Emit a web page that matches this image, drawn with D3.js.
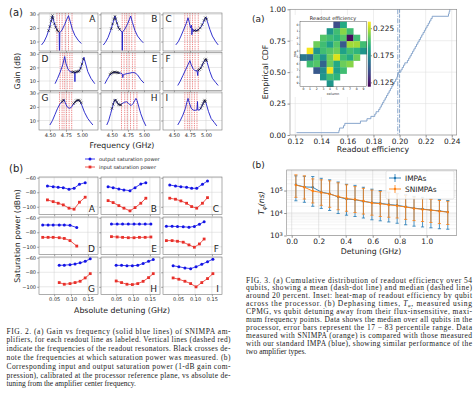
<!DOCTYPE html>
<html lang="en">
<head>
<meta charset="UTF-8">
<title>SNIMPA gain, saturation power, readout efficiency and dephasing</title>
<script src="https://d3js.org/d3.v7.min.js"></script>
<style>
    body { margin: 0; background: #fff; }
    svg { display: block; font-family: "DejaVu Sans", sans-serif; }
    .ax .domain { display: none; }
    .ax line { stroke: #444; stroke-width: 0.5; }
    .ax text { font-size: 5px; fill: #222; font-family: "DejaVu Sans", sans-serif; }
    .ax3 .domain { display: none; }
    .ax3 line { stroke: #444; stroke-width: 0.6; }
    .ax3 text { font-size: 7.4px; fill: #222; font-family: "DejaVu Sans", sans-serif; }
    .inax .domain { display: none; }
    .inax line { stroke: #444; stroke-width: 0.3; }
    .inax text { font-size: 3px; fill: #222; font-family: "DejaVu Sans", sans-serif; }
    .lbl { font-size: 7.8px; fill: #222; }
    .plbl { font-size: 9px; fill: #222; }
    .cap { font-family: "Liberation Serif", "Times New Roman", serif; font-size: 7.5px; fill: #1a1a1a; }
</style>
</head>
<body>
<svg id="page" width="474" height="397"></svg>
<script>
// ---------------- data ----------------
var panelNames = ['A', 'B', 'C', 'D', 'E', 'F', 'G', 'H', 'I'];

// FIG 2 (a): gain (dB) vs frequency (GHz), one curve per readout line
var gainCurves = [
    [[4.37,7.5],[4.41,10],[4.45,14],[4.49,19.5],[4.52,25],[4.54,29],[4.56,25],[4.59,20.5],[4.62,18],[4.645,16.5],[4.648,3.5],[4.652,3.5],[4.655,16.5],[4.69,18.5],[4.73,22.5],[4.765,26.5],[4.79,29],[4.815,25],[4.85,19],[4.89,14.5],[4.94,11],[4.99,8.5]],
    [[4.366,7.4],[4.40,9.5],[4.44,13],[4.48,18],[4.515,23.5],[4.548,28.8],[4.575,24],[4.605,20],[4.635,18],[4.658,17],[4.66,3.5],[4.663,3.5],[4.666,17],[4.70,19],[4.74,22.5],[4.77,26],[4.793,28.8],[4.82,24],[4.86,18],[4.90,14],[4.95,11],[4.99,9]],
    [[4.53,7.5],[4.57,10],[4.61,14],[4.65,18.5],[4.69,23],[4.72,27.5],[4.74,24],[4.76,20],[4.775,22],[4.78,15],[4.79,19.5],[4.81,17.5],[4.83,18.5],[4.86,18],[4.89,19],[4.92,20.5],[4.95,23],[4.98,26.5],[5.00,28],[5.02,25],[5.06,19],[5.10,14],[5.15,10],[5.19,7.5]],
    [[4.58,8],[4.62,12],[4.66,16.5],[4.70,22],[4.73,28],[4.75,23],[4.78,19],[4.81,17],[4.84,16.5],[4.87,16.5],[4.888,16.3],[4.89,9.5],[4.892,16.3],[4.92,16.5],[4.96,17.5],[4.99,21],[5.015,25],[5.03,27.5],[5.05,24],[5.09,17],[5.14,12],[5.2,8]],
    [[4.39,8],[4.43,11.5],[4.47,14.5],[4.52,16.3],[4.56,16.5],[4.60,16],[4.64,15.8],[4.665,15],[4.67,12.5],[4.675,14.5],[4.70,15],[4.74,15.5],[4.78,15.8],[4.82,16.3],[4.86,16],[4.90,14.5],[4.95,11],[5.0,8.5]],
    [[4.56,6.7],[4.60,10],[4.64,14],[4.68,18],[4.72,22],[4.75,25],[4.77,22],[4.80,19],[4.83,17.5],[4.86,17.7],[4.872,14],[4.878,17.7],[4.90,18.5],[4.93,20.5],[4.96,23.5],[4.985,25.5],[5.0,26.3],[5.02,23.5],[5.06,17],[5.10,12],[5.15,9],[5.19,6.7]],
    [[4.50,6.7],[4.54,10],[4.58,14.5],[4.62,19],[4.66,22.5],[4.70,24],[4.72,25.5],[4.74,23],[4.77,20],[4.80,19],[4.83,19.5],[4.86,21.5],[4.90,24],[4.94,25],[4.97,24],[5.0,21],[5.04,16],[5.09,11.5],[5.13,9],[5.17,6.7]],
    [[4.42,6.7],[4.45,10],[4.48,15],[4.51,20],[4.53,23.5],[4.55,25.6],[4.57,24],[4.60,22],[4.63,21.4],[4.66,22.5],[4.70,23.5],[4.73,23.8],[4.76,22.5],[4.80,21],[4.83,22.5],[4.86,25],[4.875,26.3],[4.89,25],[4.92,20],[4.95,15],[4.99,10],[5.03,6]],
    [[4.56,6.7],[4.60,10],[4.64,14],[4.68,19],[4.70,23],[4.72,26.3],[4.74,23],[4.77,19],[4.80,17.7],[4.83,17.5],[4.86,17.8],[4.868,24],[4.874,17.7],[4.90,17.7],[4.93,20],[4.96,23],[4.98,25],[5.0,23],[5.04,16.5],[5.08,11.5],[5.13,8.5],[5.17,6]]
];

// black crosses: frequencies where saturation power was measured [GHz, dB]
var gainCrosses = [
    [[4.48,18],[4.50,21],[4.52,25],[4.53,27.5],[4.54,29],[4.55,27],[4.57,23],[4.59,20.5],[4.61,18.5],[4.63,17.5]],
    [[4.49,19.5],[4.51,23],[4.53,26.5],[4.548,28.5],[4.56,26.5],[4.58,23.5],[4.60,20.5],[4.62,19]],
    [[4.82,18],[4.85,17.8],[4.88,18.5],[4.91,20],[4.94,22.5],[4.97,25.5],[4.99,27.5],[5.01,26.5]],
    [[4.85,16.5],[4.87,16.8],[4.90,16.5],[4.92,17],[4.94,17],[4.96,17.5],[4.98,19.5],[5.0,22.5],[5.02,26]],
    [[4.47,15],[4.49,15.8],[4.51,16.3],[4.53,16.5],[4.55,16.5],[4.57,16.3],[4.59,16.2],[4.61,16]],
    [[4.88,18],[4.90,18.5],[4.92,19.5],[4.94,21.5],[4.96,23.5],[4.98,25.5],[5.0,26],[5.01,25]],
    [[4.69,24],[4.71,25],[4.87,22.5],[4.89,23.5],[4.91,24.5],[4.93,25],[4.95,25],[4.97,24.5],[4.99,23]],
    [[4.50,19],[4.52,22],[4.54,24.5],[4.56,25],[4.58,23.5],[4.60,22],[4.62,21.5],[4.64,21.5]],
    [[4.92,19],[4.94,21],[4.955,22.5],[4.97,24],[4.98,25],[4.99,24]]
];

// readout resonator frequencies (GHz), six per line
var resonatorFreqs = [
    [4.61,4.65,4.69,4.74,4.79,4.845],
    [4.66,4.70,4.73,4.77,4.81,4.86],
    [4.67,4.71,4.75,4.79,4.83,4.88],
    [4.66,4.70,4.73,4.77,4.81,4.845],
    [4.65,4.69,4.73,4.77,4.82,4.86],
    [4.67,4.71,4.75,4.79,4.83,4.88],
    [4.65,4.69,4.72,4.76,4.80,4.84],
    [4.65,4.70,4.74,4.79,4.84,4.89],
    [4.67,4.71,4.74,4.78,4.82,4.86]
];
var gainTicks = [10, 20, 30];
var freqTicks = [4.50, 4.75, 5.00];

// FIG 2 (b): saturation power (dBm) vs absolute detuning (GHz)
var satDetuning = [
    [0.030,0.047,0.062,0.077,0.094,0.109,0.125,0.142],
    [0.026,0.041,0.058,0.073,0.091,0.106,0.123,0.138],
    [0.025,0.042,0.058,0.075,0.090,0.105,0.122,0.137],
    [0.016,0.032,0.047,0.065,0.080,0.097,0.117],
    [0.036,0.053,0.069,0.086,0.103,0.119,0.136,0.153],
    [0.015,0.032,0.048,0.065,0.082,0.098,0.113,0.127],
    [0.065,0.080,0.097,0.112,0.127,0.142,0.157],
    [0.050,0.066,0.082,0.098,0.114,0.130,0.146,0.160],
    [0.035,0.052,0.070,0.087,0.103,0.120,0.137,0.153]
];
var satOutput = [
    [-71.4,-72.3,-73.2,-73.7,-75.9,-74.5,-69,-66.8],
    [-72.3,-73.7,-75.5,-76.8,-77.8,-73.7,-68.6,-66.8],
    [-70,-71.4,-72.3,-73.2,-74.5,-74.5,-69,-64.5],
    [-70,-70,-70,-70,-70,-70.5,-73.5],
    [-68.8,-68.8,-68.8,-68.8,-68.8,-68.8,-68.8,-68.8],
    [-71.8,-71.8,-72.1,-72.5,-73,-72,-69,-65.5],
    [-70.5,-70.2,-69.6,-68.6,-67,-65,-61.5],
    [-70.5,-70.5,-71,-71,-70.5,-68,-65,-62.5],
    [-71,-72.5,-74,-75,-72.5,-69,-65.5,-62]
];
var satInput = [
    [-90.5,-92.9,-95.1,-97.4,-101.9,-103.3,-93.7,-86.8],
    [-91.5,-94.2,-98.4,-101.9,-105.6,-101.1,-95.1,-88.2],
    [-88.2,-89.6,-91.9,-95.1,-99.7,-101.9,-95.1,-87.4],
    [-87,-87,-87,-87.5,-88.5,-91.5,-99],
    [-86,-86.5,-87,-87.5,-87.5,-87,-87,-86.5],
    [-91.5,-91.5,-92.4,-93.7,-97.4,-100.6,-96.1,-89.3],
    [-94.2,-96.5,-95.6,-94.2,-92.4,-87.8,-81.9],
    [-92,-94.2,-96.5,-96.9,-95.6,-92.5,-87.4,-81.9],
    [-87.8,-89.6,-92.4,-95.6,-100.1,-94.2,-88.7,-81.9]
];
var satTicks = [-100, -80, -60];
var detTicks = [0.05, 0.10, 0.15];

// FIG 3 (a): readout efficiency of the 54 qubits (sorted)
var readoutEff = [
    0.121, 0.1535, 0.154, 0.157, 0.158, 0.170, 0.175, 0.178, 0.181, 0.182,
    0.184, 0.185, 0.186, 0.187, 0.188, 0.189, 0.190, 0.191, 0.192, 0.193,
    0.194, 0.195, 0.196, 0.197, 0.198, 0.1985, 0.199, 0.201, 0.202, 0.203,
    0.204, 0.206, 0.207, 0.208, 0.209, 0.210, 0.211, 0.212, 0.213, 0.214,
    0.215, 0.216, 0.217, 0.218, 0.219, 0.220, 0.221, 0.222, 0.223, 0.224,
    0.225, 0.2375, 0.238, 0.2385
];
var effTicks = [0.12, 0.14, 0.16, 0.18, 0.20, 0.22, 0.24];
var cdfTicks = [0, 0.25, 0.5, 0.75, 1];

// inset heat-map: readout efficiency by qubit (row, column)
var effGrid = [
    [null,null,null,null,null,0.145,0.19,null,null,null],
    [null,null,null,null,0.18,0.2,0.215,0.2,null,null],
    [null,null,null,0.205,0.2,0.195,0.205,0.12,0.2,null],
    [null,null,0.21,0.2,0.185,0.205,0.15,0.22,0.22,0.2],
    [null,0.235,0.18,0.2,0.205,0.21,0.185,0.2,0.195,0.18],
    [0.165,0.16,0.2,0.18,0.21,0.23,0.2,0.19,0.21,null],
    [null,0.2,0.205,0.155,0.21,0.19,0.21,0.215,null,null],
    [null,null,0.15,0.175,0.235,0.185,0.2,null,null,null],
    [null,null,null,0.18,0.2,0.195,null,null,null,null],
    [null,null,null,null,0.18,null,null,null,null,null]
];
var colorbarTicks = [0.125, 0.175, 0.225];

// FIG 3 (b): dephasing time T_phi (ns) vs detuning (GHz), median and 17-83 percentile
var detuning = [0.031,0.094,0.156,0.219,0.281,0.344,0.406,0.469,0.531,0.594,0.656,0.719,0.781,0.844,0.906,0.969,1.031,1.094,1.156];
var impaMed = [1.8e5,1.45e5,1.4e5,8.5e4,7.2e4,5.2e4,4.2e4,3.9e4,3.3e4,2.9e4,2.7e4,2.4e4,2.2e4,1.9e4,1.65e4,1.5e4,1.35e4,1.25e4,1.1e4];
var impaHi = [4.5e5,4.3e5,4.2e5,3.5e5,3.0e5,2.4e5,1.9e5,1.7e5,1.4e5,1.15e5,1.0e5,8.5e4,7.5e4,6.5e4,5.5e4,5.0e4,4.4e4,4.0e4,3.6e4];
var impaLo = [3.5e4,3.0e4,2.0e4,1.6e4,1.3e4,9.5e3,8e3,7e3,6e3,5e3,4.5e3,4e3,3.5e3,3e3,2.6e3,2.4e3,2.2e3,2.0e3,1.9e3];
var snimpaMed = [1.75e5,1.4e5,9.5e4,8.2e4,7.0e4,5.4e4,4.4e4,4.0e4,3.4e4,2.8e4,2.6e4,2.3e4,2.1e4,1.85e4,1.6e4,1.45e4,1.35e4,1.2e4,1.1e4];
var snimpaHi = [5.0e5,4.5e5,3.3e5,3.0e5,2.7e5,2.2e5,1.8e5,1.5e5,1.25e5,1.05e5,9e4,8e4,7e4,6e4,5e4,4.5e4,4.0e4,3.6e4,3.3e4];
var snimpaLo = [5e4,4.2e4,2.8e4,2.2e4,1.8e4,1.4e4,1.2e4,1.05e4,9e3,8e3,7e3,6.5e3,6e3,5.2e3,4.6e3,4.2e3,3.8e3,3.4e3,3.1e3];
var detTicks3 = [0, 0.2, 0.4, 0.6, 0.8, 1.0];
var tphiTicks = [1e3, 1e4, 1e5];

// captions
var fig2Caption = [
    'FIG. 2.    (a) Gain vs frequency (solid blue lines) of SNIMPA am-',
    'plifiers, for each readout line as labeled. Vertical lines (dashed red)',
    'indicate the frequencies of the readout resonators. Black crosses de-',
    'note the frequencies at which saturation power was measured.  (b)',
    'Corresponding input and output saturation power (1-dB gain com-',
    'pression), calibrated at the processor reference plane, vs absolute de-',
    'tuning from the amplifier center frequency.'
];
var fig3Caption = [
    'FIG. 3.    (a) Cumulative distribution of readout efficiency over 54',
    'qubits, showing a mean (dash-dot line) and median (dashed line)',
    'around 20 percent.  Inset: heat-map of readout efficiency by qubit',
    'across the processor.   (b) Dephasing times, |T|, measured using',
    'CPMG, vs qubit detuning away from their flux-insensitive, maxi-',
    'mum frequency points. Data shows the median over all qubits in the',
    'processor, error bars represent the 17 \u2212 83 percentile range.  Data',
    'measured with SNIMPA (orange) is compared with those measured',
    'with our standard IMPA (blue), showing similar performance of the',
    'two amplifier types.'
];

// ---------------- layout ----------------
var svg = d3.select('#page');
var defs = svg.append('defs');
var colX = [39, 101, 163], panelW = 59;

function grid(g, xs, ys, xt, yt, x0, x1, y0, y1, color) {
    g.selectAll('.gx').data(xt).enter().append('line')
        .attr('x1', d => xs(d)).attr('x2', d => xs(d)).attr('y1', y0).attr('y2', y1)
        .attr('stroke', color).attr('stroke-width', 0.5);
    g.selectAll('.gy').data(yt).enter().append('line')
        .attr('x1', x0).attr('x2', x1).attr('y1', d => ys(d)).attr('y2', d => ys(d))
        .attr('stroke', color).attr('stroke-width', 0.5);
}

function frame(g, x, y, w, h, color, sw) {
    g.append('rect').attr('x', x).attr('y', y).attr('width', w).attr('height', h)
        .attr('fill', 'none').attr('stroke', color).attr('stroke-width', sw);
}

// ---------- FIG 2 (a) ----------
var gainRowY = [13, 52.5, 92], gainH = 38;
var gainX = d3.scaleLinear().domain([4.33, 5.25]).range([0, panelW]);
var gainY = d3.scaleLinear().domain([3, 31]).range([gainH, 0]);
var gainLabelRight = [true, true, false, false, true, false, false, true, false];

panelNames.forEach(function (name, i) {
    var r = Math.floor(i / 3), c = i % 3;
    var g = svg.append('g').attr('transform', 'translate(' + colX[c] + ',' + gainRowY[r] + ')');
    defs.append('clipPath').attr('id', 'gclip' + i)
        .append('rect').attr('width', panelW).attr('height', gainH);
    grid(g, gainX, gainY, freqTicks, gainTicks, 0, panelW, 0, gainH, '#d0d0d0');

    var inner = g.append('g').attr('clip-path', 'url(#gclip' + i + ')');
    inner.selectAll('.res').data(resonatorFreqs[i]).enter().append('line')
        .attr('x1', d => gainX(d)).attr('x2', d => gainX(d))
        .attr('y1', 0).attr('y2', gainH)
        .attr('stroke', '#e03a3a').attr('stroke-width', 0.6)
        .attr('stroke-dasharray', '1.3,0.9');
    inner.append('path').datum(gainCurves[i])
        .attr('d', d3.line().x(d => gainX(d[0])).y(d => gainY(d[1])))
        .attr('fill', 'none').attr('stroke', '#1c1cc8').attr('stroke-width', 0.9);
    inner.selectAll('.cross').data(gainCrosses[i]).enter().append('path')
        .attr('transform', d => 'translate(' + gainX(d[0]) + ',' + gainY(d[1]) + ')')
        .attr('d', 'M-1.3,-1.3L1.3,1.3M-1.3,1.3L1.3,-1.3')
        .attr('stroke', '#000').attr('stroke-width', 0.5);

    var ya = d3.axisLeft(gainY).tickValues(gainTicks).tickSize(1.8).tickPadding(1.2);
    if (c > 0) ya.tickFormat('');
    g.append('g').attr('class', 'ax').call(ya);
    var xa = d3.axisBottom(gainX).tickValues(freqTicks).tickSize(1.8).tickPadding(1.2)
        .tickFormat(d3.format('.2f'));
    if (r < 2) xa.tickFormat('');
    g.append('g').attr('class', 'ax').attr('transform', 'translate(0,' + gainH + ')').call(xa);
    frame(g, 0, 0, panelW, gainH, '#777', 0.6);

    g.append('text').attr('class', 'plbl')
        .attr('x', gainLabelRight[i] ? panelW - 2.5 : 2.5).attr('y', 9)
        .attr('text-anchor', gainLabelRight[i] ? 'end' : 'start')
        .text(name);
});

svg.append('text').attr('class', 'plbl').attr('x', 9).attr('y', 16).style('font-size', '10px').text('(a)');
svg.append('text').attr('class', 'lbl').attr('text-anchor', 'middle')
    .attr('transform', 'translate(20,71) rotate(-90)').text('Gain (dB)');
svg.append('text').attr('class', 'lbl').attr('text-anchor', 'middle')
    .attr('x', 122).attr('y', 148).text('Frequency (GHz)');

// ---------- FIG 2 (b) ----------
var satRowY = [177, 217, 257], satH = 37.5;
var satX = d3.scaleLinear().domain([0.005, 0.18]).range([0, panelW]);
var satY = d3.scaleLinear().domain([-110.6, -59]).range([satH, 0]);
var blue = '#1414e6', red = '#e8302a';

panelNames.forEach(function (name, i) {
    var r = Math.floor(i / 3), c = i % 3;
    var g = svg.append('g').attr('transform', 'translate(' + colX[c] + ',' + satRowY[r] + ')');
    grid(g, satX, satY, detTicks, satTicks, 0, panelW, 0, satH, '#d0d0d0');

    var pts = satDetuning[i];
    var outPts = pts.map((d, k) => [d, satOutput[i][k]]);
    var inPts = pts.map((d, k) => [d, satInput[i][k]]);
    var line = d3.line().x(d => satX(d[0])).y(d => satY(d[1]));
    g.append('path').datum(outPts).attr('d', line)
        .attr('fill', 'none').attr('stroke', blue).attr('stroke-width', 0.8);
    g.selectAll('.o').data(outPts).enter().append('circle')
        .attr('cx', d => satX(d[0])).attr('cy', d => satY(d[1])).attr('r', 1.5).attr('fill', blue);
    g.append('path').datum(inPts).attr('d', line)
        .attr('fill', 'none').attr('stroke', red).attr('stroke-width', 0.8);
    g.selectAll('.s').data(inPts).enter().append('rect')
        .attr('x', d => satX(d[0]) - 1.4).attr('y', d => satY(d[1]) - 1.4)
        .attr('width', 2.8).attr('height', 2.8).attr('fill', red);

    var ya = d3.axisLeft(satY).tickValues(satTicks).tickSize(1.8).tickPadding(1.2);
    if (c > 0) ya.tickFormat('');
    g.append('g').attr('class', 'ax').call(ya);
    var xa = d3.axisBottom(satX).tickValues(detTicks).tickSize(1.8).tickPadding(1.2)
        .tickFormat(d3.format('.2f'));
    if (r < 2) xa.tickFormat('');
    g.append('g').attr('class', 'ax').attr('transform', 'translate(0,' + satH + ')').call(xa);
    frame(g, 0, 0, panelW, satH, '#777', 0.6);

    g.append('text').attr('class', 'plbl').attr('x', panelW - 3).attr('y', satH - 3)
        .attr('text-anchor', 'end').text(name);
});

// legend
var leg = svg.append('g').attr('transform', 'translate(85,159)');
leg.append('line').attr('x1', 0).attr('x2', 10).attr('stroke', blue).attr('stroke-width', 0.8);
leg.append('circle').attr('cx', 5).attr('r', 1.5).attr('fill', blue);
leg.append('text').attr('x', 14).attr('y', 1.8).style('font-size', '5px').attr('fill', '#222').text('output saturation power');
leg.append('line').attr('x1', 0).attr('x2', 10).attr('y1', 8).attr('y2', 8).attr('stroke', red).attr('stroke-width', 0.8);
leg.append('rect').attr('x', 3.6).attr('y', 6.6).attr('width', 2.8).attr('height', 2.8).attr('fill', red);
leg.append('text').attr('x', 14).attr('y', 9.8).style('font-size', '5px').attr('fill', '#222').text('input saturation power');

svg.append('text').attr('class', 'plbl').attr('x', 9).attr('y', 172).style('font-size', '10px').text('(b)');
svg.append('text').attr('class', 'lbl').attr('text-anchor', 'middle')
    .attr('transform', 'translate(20,236) rotate(-90)').text('Saturation power (dBm)');
svg.append('text').attr('class', 'lbl').attr('text-anchor', 'middle')
    .attr('x', 122).attr('y', 313).text('Absolute detuning (GHz)');

// ---------- captions ----------
function caption(lines, x0, y0, width, dy) {
    lines.forEach(function (str, k) {
        var t = svg.append('text').attr('class', 'cap').attr('x', x0).attr('y', y0 + k * dy);
        var parts = str.split('|');
        t.append('tspan').text(parts[0]);
        if (parts.length > 1) {
            t.append('tspan').style('font-style', 'italic').text('T');
            t.append('tspan').attr('dy', 0.9).style('font-size', '4.6px').style('font-style', 'italic').text('\u03c6');
            t.append('tspan').attr('dy', -0.9).text(parts[2]);
        }
        if (k < lines.length - 1) t.attr('textLength', width).attr('lengthAdjust', 'spacing');
    });
}
caption(fig2Caption, 6.5, 333.5, 224, 8.8);
caption(fig3Caption, 246, 282.5, 226, 7.95);

// ---------- FIG 3 (a) ----------
var cdfL = 290, cdfR = 456.7, cdfT = 9.3, cdfB = 135;
var cdfX = d3.scaleLinear().domain([0.116, 0.2438]).range([cdfL, cdfR]);
var cdfY = d3.scaleLinear().domain([0, 1]).range([cdfB, cdfT]);
var ga = svg.append('g');
grid(ga, cdfX, cdfY, effTicks, cdfTicks, cdfL, cdfR, cdfT, cdfB, '#dcdcdc');

var n = readoutEff.length;
var cdfPts = readoutEff.map((v, k) => [v, (k + 1) / n]);
ga.append('path').datum(cdfPts)
    .attr('d', d3.line().curve(d3.curveStepAfter).x(d => cdfX(d[0])).y(d => cdfY(d[1])))
    .attr('fill', 'none').attr('stroke', '#7a9cc6').attr('stroke-width', 0.9);
var effMean = d3.mean(readoutEff), effMedian = d3.median(readoutEff);
ga.append('line').attr('x1', cdfX(effMean)).attr('x2', cdfX(effMean)).attr('y1', cdfT).attr('y2', cdfB)
    .attr('stroke', '#7a9cc6').attr('stroke-width', 0.9).attr('stroke-dasharray', '5,1.5,1,1.5');
ga.append('line').attr('x1', cdfX(effMedian)).attr('x2', cdfX(effMedian)).attr('y1', cdfT).attr('y2', cdfB)
    .attr('stroke', '#7a9cc6').attr('stroke-width', 0.9).attr('stroke-dasharray', '3.5,1.5');

svg.append('g').attr('class', 'ax3').attr('transform', 'translate(0,' + cdfB + ')')
    .call(d3.axisBottom(cdfX).tickValues(effTicks).tickSize(2.5).tickPadding(1.2).tickFormat(d3.format('.2f')));
svg.append('g').attr('class', 'ax3').attr('transform', 'translate(' + cdfL + ',0)')
    .call(d3.axisLeft(cdfY).tickValues(cdfTicks).tickSize(2.5).tickPadding(1.5).tickFormat(d3.format('.2f')));
frame(svg, cdfL, cdfT, cdfR - cdfL, cdfB - cdfT, '#888', 0.6);
svg.append('text').attr('class', 'lbl').attr('text-anchor', 'middle')
    .attr('transform', 'translate(268,72) rotate(-90)').text('Empirical CDF');
svg.append('text').attr('class', 'lbl').attr('text-anchor', 'middle')
    .attr('x', 373).attr('y', 151.5).text('Readout efficiency');
svg.append('text').attr('class', 'plbl').attr('x', 252).attr('y', 22).text('(a)');

// inset heat-map
var inX = d3.scaleBand().domain(d3.range(10)).range([300, 366.7]);
var inY = d3.scaleBand().domain(d3.range(10)).range([21.7, 86.7]);
var effColor = d3.scaleSequential(d3.interpolateViridis).domain([0.117, 0.237]);
svg.append('rect').attr('x', 293).attr('y', 15).attr('width', 80).attr('height', 82).attr('fill', '#fff');
var cells = [];
effGrid.forEach((row, ri) => row.forEach((v, ci) => { if (v !== null) cells.push({ r: ri, c: ci, v: v }); }));
svg.selectAll('.cell').data(cells).enter().append('rect')
    .attr('x', d => inX(d.c)).attr('y', d => inY(d.r))
    .attr('width', inX.bandwidth() + 0.2).attr('height', inY.bandwidth() + 0.2)
    .attr('fill', d => effColor(d.v));
frame(svg, 300, 21.7, 66.7, 65, '#333', 0.4);
svg.append('g').attr('class', 'inax').attr('transform', 'translate(0,86.7)')
    .call(d3.axisBottom(inX).tickSize(1).tickPadding(0.6));
svg.append('g').attr('class', 'inax').attr('transform', 'translate(300,0)')
    .call(d3.axisLeft(inY).tickSize(1).tickPadding(0.6));
svg.append('text').attr('x', 333).attr('y', 94.5).attr('text-anchor', 'middle')
    .style('font-size', '3.4px').attr('fill', '#222').text('column');
svg.append('text').attr('transform', 'translate(295.5,54) rotate(-90)').attr('text-anchor', 'middle')
    .style('font-size', '3.4px').attr('fill', '#222').text('row');
svg.append('text').attr('x', 333).attr('y', 19.5).attr('text-anchor', 'middle')
    .style('font-size', '5px').attr('fill', '#222').text('Readout efficiency');

// colorbar
var cbY = d3.scaleLinear().domain([0.117, 0.237]).range([86.7, 21.7]);
var grad = defs.append('linearGradient').attr('id', 'viridis')
    .attr('x1', 0).attr('x2', 0).attr('y1', 1).attr('y2', 0);
d3.range(0, 1.001, 0.1).forEach(t => grad.append('stop').attr('offset', t).attr('stop-color', d3.interpolateViridis(t)));
svg.append('rect').attr('x', 367.8).attr('y', 21.7).attr('width', 3).attr('height', 65)
    .attr('fill', 'url(#viridis)');
svg.append('g').attr('class', 'ax3').attr('transform', 'translate(370.8,0)')
    .call(d3.axisRight(cbY).tickValues(colorbarTicks).tickSize(1.2).tickPadding(1).tickFormat(d3.format('.3f')));

// ---------- FIG 3 (b) ----------
var tL = 286.7, tR = 456.7, tT = 170, tB = 235.5;
var tX = d3.scaleLinear().domain([-0.037, 1.222]).range([tL, tR]);
var tY = d3.scaleLog().domain([1e3, 8.2e5]).range([tB, tT]);
var gb = svg.append('g');
var minorT = [];
[1e3, 1e4, 1e5].forEach(dec => [2, 3, 4, 5, 6, 7, 8, 9].forEach(m => { if (dec * m < 8.2e5) minorT.push(dec * m); }));
gb.selectAll('.mn').data(minorT).enter().append('line')
    .attr('x1', tL).attr('x2', tR).attr('y1', d => tY(d)).attr('y2', d => tY(d))
    .attr('stroke', '#e8e8e8').attr('stroke-width', 0.5);
grid(gb, tX, tY, detTicks3, tphiTicks, tL, tR, tT, tB, '#cfcfcf');

function errSeries(med, lo, hi, color) {
    var s = gb.append('g');
    detuning.forEach(function (x, k) {
        s.append('line').attr('x1', tX(x)).attr('x2', tX(x)).attr('y1', tY(lo[k])).attr('y2', tY(hi[k]))
            .attr('stroke', color).attr('stroke-width', 0.8);
        [lo[k], hi[k]].forEach(v => s.append('line').attr('x1', tX(x) - 1.6).attr('x2', tX(x) + 1.6)
            .attr('y1', tY(v)).attr('y2', tY(v)).attr('stroke', color).attr('stroke-width', 0.8));
    });
    s.append('path').datum(med.map((v, k) => [detuning[k], v]))
        .attr('d', d3.line().x(d => tX(d[0])).y(d => tY(d[1])))
        .attr('fill', 'none').attr('stroke', color).attr('stroke-width', 0.9);
    s.selectAll('circle').data(med).enter().append('circle')
        .attr('cx', (d, k) => tX(detuning[k])).attr('cy', d => tY(d)).attr('r', 1.2).attr('fill', color);
}
errSeries(impaMed, impaLo, impaHi, '#1f77b4');
errSeries(snimpaMed, snimpaLo, snimpaHi, '#ff7f0e');

svg.append('g').attr('class', 'ax3').attr('transform', 'translate(0,' + tB + ')')
    .call(d3.axisBottom(tX).tickValues(detTicks3).tickSize(2.2).tickPadding(0.8).tickFormat(d3.format('.1f')));
var yAx = svg.append('g').attr('class', 'ax3').attr('transform', 'translate(' + tL + ',0)')
    .call(d3.axisLeft(tY).tickValues(tphiTicks).tickSize(2.5).tickPadding(1.5).tickFormat(''));
yAx.selectAll('.tick text').each(function (d) {
    var t = d3.select(this).text('10');
    t.append('tspan').attr('dy', '-0.45em').style('font-size', '5.2px').text(Math.round(Math.log10(d)));
});
frame(svg, tL, tT, tR - tL, tB - tT, '#888', 0.6);

// legend
var lg = svg.append('g').attr('transform', 'translate(386,171)');
lg.append('rect').attr('width', 68).attr('height', 28).attr('rx', 1.5)
    .attr('fill', '#fff').attr('fill-opacity', 0.85).attr('stroke', '#ccc').attr('stroke-width', 0.5);
[['IMPAs', '#1f77b4', 7], ['SNIMPAs', '#ff7f0e', 18]].forEach(function (e) {
    lg.append('line').attr('x1', 3).attr('x2', 15).attr('y1', e[2]).attr('y2', e[2]).attr('stroke', e[1]).attr('stroke-width', 0.9);
    lg.append('line').attr('x1', 9).attr('x2', 9).attr('y1', e[2] - 4).attr('y2', e[2] + 4).attr('stroke', e[1]).attr('stroke-width', 0.8);
    lg.append('circle').attr('cx', 9).attr('cy', e[2]).attr('r', 1.2).attr('fill', e[1]);
    lg.append('text').attr('x', 19).attr('y', e[2] + 2.8).style('font-size', '7.4px').attr('fill', '#222').text(e[0]);
});

var yl = svg.append('text').attr('class', 'lbl').attr('text-anchor', 'middle')
    .attr('transform', 'translate(264,203) rotate(-90)');
yl.append('tspan').style('font-style', 'italic').text('T');
yl.append('tspan').attr('dy', 2).style('font-size', '5.5px').style('font-style', 'italic').text('\u03c6');
yl.append('tspan').attr('dy', -2).style('font-style', 'italic').text('(ns)');
svg.append('text').attr('class', 'lbl').attr('text-anchor', 'middle')
    .attr('x', 371).attr('y', 253.5).text('Detuning (GHz)');
svg.append('text').attr('class', 'plbl').attr('x', 252).attr('y', 168).text('(b)');
</script>
</body>
</html>
